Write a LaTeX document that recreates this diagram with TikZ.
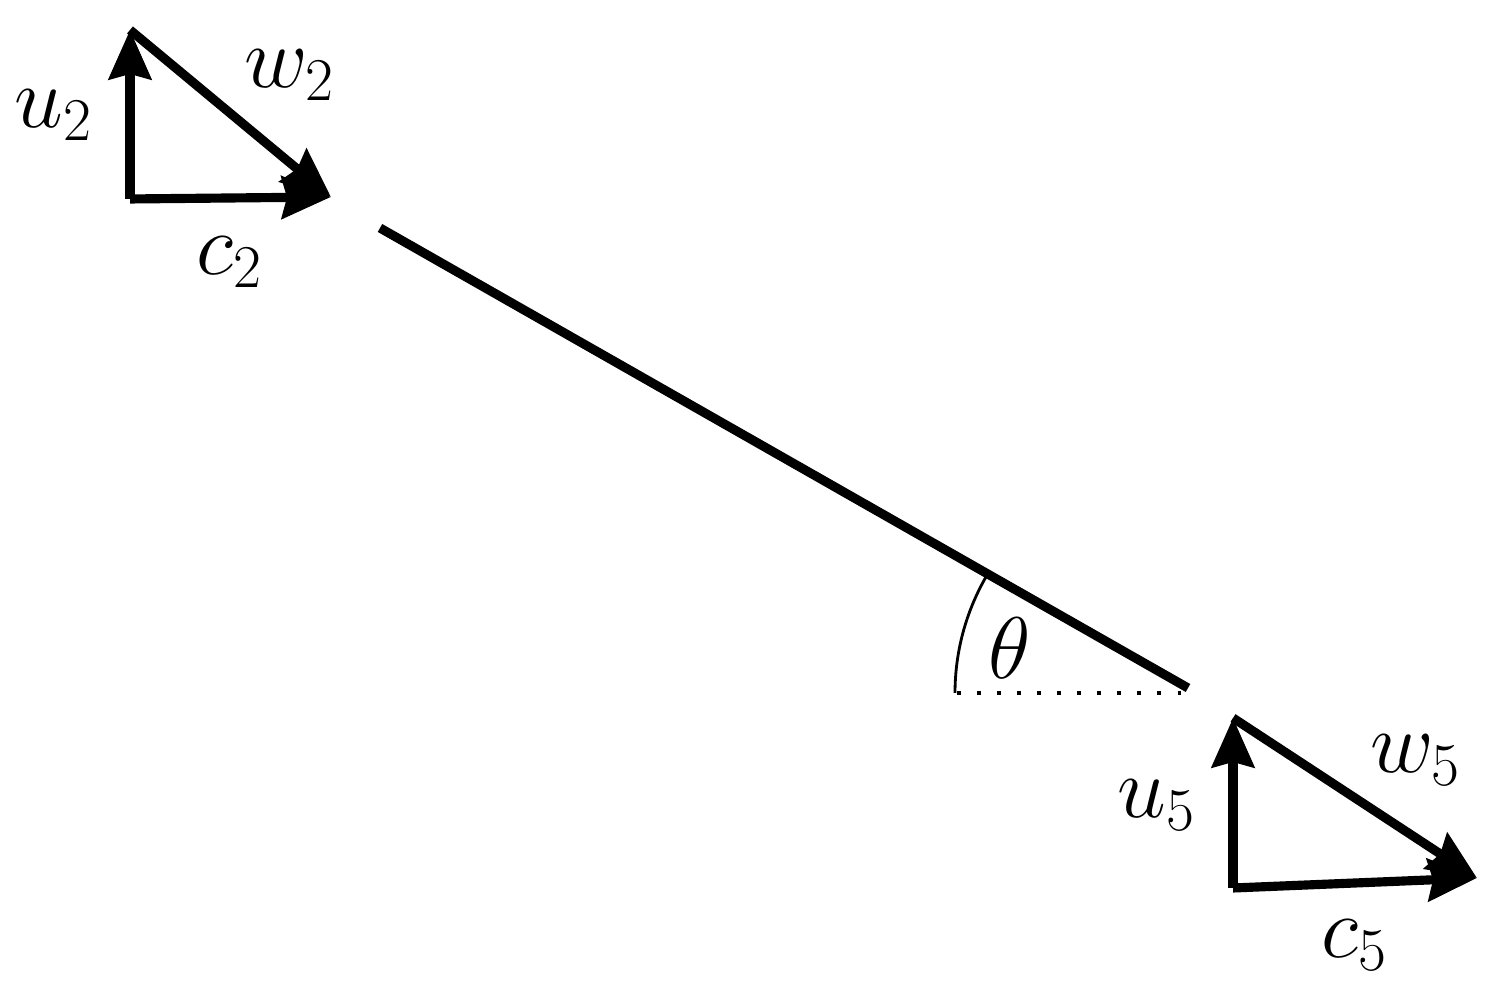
\documentclass[tikz,border=0pt]{standalone}
\usetikzlibrary{arrows.meta}
\begin{document}
\begin{tikzpicture}[x=0.01cm,y=0.01cm,
  vec/.style={line width=2.6pt,-{Stealth[length=14pt,width=12pt,inset=1.5pt]}},
  blade/.style={line width=2.6pt},
  lbl/.style={inner sep=0pt,font=\fontsize{27}{30}\selectfont}]
\useasboundingbox (0,0) rectangle (1504,992);
% top-left triangle
\coordinate (t2) at (130,962);
\coordinate (o2) at (130,793);
\coordinate (e2) at (331,795);
\draw[vec] (o2) -- (t2);
\draw[vec] (o2) -- (e2);
\draw[vec] (t2) -- (e2);
\node[lbl] (u2) at (54,877) {$u_2$};
\node[lbl] (w2) at (290,917) {$w_2$};
\node[lbl] (c2) at (230,730) {$c_2$};
% blade
\coordinate (b1) at (380,764);
\coordinate (b2) at (1188,304);
\draw[blade] (b1) -- (b2);
\coordinate (d1) at (957,299);
\coordinate (d2) at (1188,299);
\draw[line width=0.9pt,dash pattern=on 1.1pt off 4.6pt] (d1) -- (d2);
\draw[line width=0.8pt] (955,299) arc[start angle=180,end angle=150.3,radius=2.33cm];
\node[lbl] (th) at (1010,344) {$\theta$};
% bottom-right triangle
\coordinate (t5) at (1233,274);
\coordinate (o5) at (1233,104);
\coordinate (e5) at (1477,114);
\draw[vec] (o5) -- (t5);
\draw[vec] (o5) -- (e5);
\draw[vec] (t5) -- (e5);
\node[lbl] (u5) at (1157,187) {$u_5$};
\node[lbl] (w5) at (1416,232) {$w_5$};
\node[lbl] (c5) at (1355,47) {$c_5$};
\end{tikzpicture}
\end{document}
